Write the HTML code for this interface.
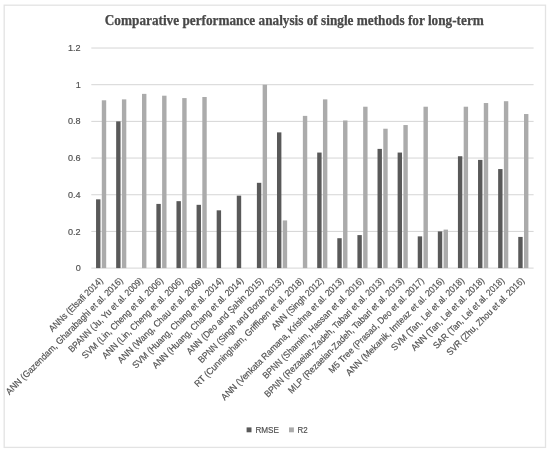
<!DOCTYPE html>
<html lang="en"><head><meta charset="utf-8"><title>Comparative performance analysis</title>
<style>html,body{margin:0;padding:0;background:#fff}svg{display:block}text{font-family:"Liberation Sans",sans-serif;fill:#505050;stroke:#505050;stroke-width:0.18px}.t{font-family:"Liberation Serif",serif;font-weight:bold;fill:#484848;stroke:#484848;stroke-width:0.25px}</style></head><body>
<svg width="550" height="451" viewBox="0 0 550 451">
<rect x="0" y="0" width="550" height="451" fill="#fff"/>
<rect x="4.2" y="5.2" width="541.3" height="442.2" fill="none" stroke="#e3e3e3" stroke-width="1.3"/>
<line x1="91.3" x2="533.6" y1="268.10" y2="268.10" stroke="#d5d5d5" stroke-width="1"/>
<line x1="91.3" x2="533.6" y1="231.42" y2="231.42" stroke="#d5d5d5" stroke-width="1"/>
<line x1="91.3" x2="533.6" y1="194.74" y2="194.74" stroke="#d5d5d5" stroke-width="1"/>
<line x1="91.3" x2="533.6" y1="158.06" y2="158.06" stroke="#d5d5d5" stroke-width="1"/>
<line x1="91.3" x2="533.6" y1="121.38" y2="121.38" stroke="#d5d5d5" stroke-width="1"/>
<line x1="91.3" x2="533.6" y1="84.70" y2="84.70" stroke="#d5d5d5" stroke-width="1"/>
<line x1="91.3" x2="533.6" y1="48.02" y2="48.02" stroke="#d5d5d5" stroke-width="1"/>
<rect x="96.05" y="199.33" width="4.40" height="68.77" fill="#595959"/>
<rect x="101.80" y="100.29" width="4.40" height="167.81" fill="#ababab"/>
<rect x="116.16" y="121.38" width="4.40" height="146.72" fill="#595959"/>
<rect x="121.91" y="99.37" width="4.40" height="168.73" fill="#ababab"/>
<rect x="142.01" y="93.87" width="4.40" height="174.23" fill="#ababab"/>
<rect x="156.37" y="203.91" width="4.40" height="64.19" fill="#595959"/>
<rect x="162.12" y="95.70" width="4.40" height="172.40" fill="#ababab"/>
<rect x="176.47" y="201.16" width="4.40" height="66.94" fill="#595959"/>
<rect x="182.22" y="98.09" width="4.40" height="170.01" fill="#ababab"/>
<rect x="196.57" y="204.83" width="4.40" height="63.27" fill="#595959"/>
<rect x="202.32" y="96.99" width="4.40" height="171.11" fill="#ababab"/>
<rect x="216.68" y="210.33" width="4.40" height="57.77" fill="#595959"/>
<rect x="236.78" y="195.66" width="4.40" height="72.44" fill="#595959"/>
<rect x="256.89" y="182.82" width="4.40" height="85.28" fill="#595959"/>
<rect x="262.64" y="84.70" width="4.40" height="183.40" fill="#ababab"/>
<rect x="276.99" y="132.38" width="4.40" height="135.72" fill="#595959"/>
<rect x="282.74" y="220.42" width="4.40" height="47.68" fill="#ababab"/>
<rect x="302.85" y="115.88" width="4.40" height="152.22" fill="#ababab"/>
<rect x="317.20" y="152.56" width="4.40" height="115.54" fill="#595959"/>
<rect x="322.95" y="99.37" width="4.40" height="168.73" fill="#ababab"/>
<rect x="337.31" y="238.21" width="4.40" height="29.89" fill="#595959"/>
<rect x="343.06" y="120.46" width="4.40" height="147.64" fill="#ababab"/>
<rect x="357.41" y="235.09" width="4.40" height="33.01" fill="#595959"/>
<rect x="363.16" y="106.71" width="4.40" height="161.39" fill="#ababab"/>
<rect x="377.52" y="148.89" width="4.40" height="119.21" fill="#595959"/>
<rect x="383.27" y="128.72" width="4.40" height="139.38" fill="#ababab"/>
<rect x="397.62" y="152.56" width="4.40" height="115.54" fill="#595959"/>
<rect x="403.37" y="125.05" width="4.40" height="143.05" fill="#ababab"/>
<rect x="417.73" y="236.37" width="4.40" height="31.73" fill="#595959"/>
<rect x="423.48" y="106.71" width="4.40" height="161.39" fill="#ababab"/>
<rect x="437.83" y="231.42" width="4.40" height="36.68" fill="#595959"/>
<rect x="443.58" y="229.59" width="4.40" height="38.51" fill="#ababab"/>
<rect x="457.93" y="156.23" width="4.40" height="111.87" fill="#595959"/>
<rect x="463.68" y="106.71" width="4.40" height="161.39" fill="#ababab"/>
<rect x="478.04" y="159.89" width="4.40" height="108.21" fill="#595959"/>
<rect x="483.79" y="103.04" width="4.40" height="165.06" fill="#ababab"/>
<rect x="498.14" y="169.06" width="4.40" height="99.04" fill="#595959"/>
<rect x="503.89" y="101.21" width="4.40" height="166.89" fill="#ababab"/>
<rect x="518.25" y="236.92" width="4.40" height="31.18" fill="#595959"/>
<rect x="524.00" y="114.04" width="4.40" height="154.06" fill="#ababab"/>
<text x="80.7" y="271.20" font-size="9.8" text-anchor="end" textLength="5.07" lengthAdjust="spacingAndGlyphs">0</text>
<text x="80.7" y="234.52" font-size="9.8" text-anchor="end" textLength="12.66" lengthAdjust="spacingAndGlyphs">0.2</text>
<text x="80.7" y="197.84" font-size="9.8" text-anchor="end" textLength="12.66" lengthAdjust="spacingAndGlyphs">0.4</text>
<text x="80.7" y="161.16" font-size="9.8" text-anchor="end" textLength="12.66" lengthAdjust="spacingAndGlyphs">0.6</text>
<text x="80.7" y="124.48" font-size="9.8" text-anchor="end" textLength="12.66" lengthAdjust="spacingAndGlyphs">0.8</text>
<text x="80.7" y="87.80" font-size="9.8" text-anchor="end" textLength="5.07" lengthAdjust="spacingAndGlyphs">1</text>
<text x="80.7" y="51.12" font-size="9.8" text-anchor="end" textLength="12.66" lengthAdjust="spacingAndGlyphs">1.2</text>
<text transform="translate(103.45,281.2) rotate(-45)" font-size="9.2" text-anchor="end" textLength="72.19" lengthAdjust="spacingAndGlyphs">ANNs (Elsafi 2014)</text>
<text transform="translate(123.52,281.2) rotate(-45)" font-size="9.2" text-anchor="end" textLength="161.20" lengthAdjust="spacingAndGlyphs">ANN (Gazendam, Gharabaghi et al. 2016)</text>
<text transform="translate(143.59,281.2) rotate(-45)" font-size="9.2" text-anchor="end" textLength="101.34" lengthAdjust="spacingAndGlyphs">BPANN (Ju, Yu et al. 2009)</text>
<text transform="translate(163.67,281.2) rotate(-45)" font-size="9.2" text-anchor="end" textLength="110.39" lengthAdjust="spacingAndGlyphs">SVM (Lin, Cheng et al. 2006)</text>
<text transform="translate(183.74,281.2) rotate(-45)" font-size="9.2" text-anchor="end" textLength="110.34" lengthAdjust="spacingAndGlyphs">ANN (Lin, Cheng et al. 2006)</text>
<text transform="translate(203.81,281.2) rotate(-45)" font-size="9.2" text-anchor="end" textLength="116.89" lengthAdjust="spacingAndGlyphs">ANN (Wang, Chau et al. 2009)</text>
<text transform="translate(223.88,281.2) rotate(-45)" font-size="9.2" text-anchor="end" textLength="124.34" lengthAdjust="spacingAndGlyphs">SVM (Huang, Chang et al. 2014)</text>
<text transform="translate(243.95,281.2) rotate(-45)" font-size="9.2" text-anchor="end" textLength="124.29" lengthAdjust="spacingAndGlyphs">ANN (Huang, Chang et al. 2014)</text>
<text transform="translate(264.02,281.2) rotate(-45)" font-size="9.2" text-anchor="end" textLength="104.51" lengthAdjust="spacingAndGlyphs">ANN (Deo and Şahin 2015)</text>
<text transform="translate(284.09,281.2) rotate(-45)" font-size="9.2" text-anchor="end" textLength="116.49" lengthAdjust="spacingAndGlyphs">BPNN (Singh and Borah 2013)</text>
<text transform="translate(304.16,281.2) rotate(-45)" font-size="9.2" text-anchor="end" textLength="150.31" lengthAdjust="spacingAndGlyphs">RT (Cunningham, Griffioen et al. 2018)</text>
<text transform="translate(324.24,281.2) rotate(-45)" font-size="9.2" text-anchor="end" textLength="69.37" lengthAdjust="spacingAndGlyphs">ANN (Singh 2012)</text>
<text transform="translate(344.31,281.2) rotate(-45)" font-size="9.2" text-anchor="end" textLength="168.96" lengthAdjust="spacingAndGlyphs">ANN (Venkata Ramana, Krishna et al. 2013)</text>
<text transform="translate(364.38,281.2) rotate(-45)" font-size="9.2" text-anchor="end" textLength="138.74" lengthAdjust="spacingAndGlyphs">BPNN (Shamim, Hassan et al. 2016)</text>
<text transform="translate(384.45,281.2) rotate(-45)" font-size="9.2" text-anchor="end" textLength="164.78" lengthAdjust="spacingAndGlyphs">BPNN (Rezaeian-Zadeh, Tabari et al. 2013)</text>
<text transform="translate(404.52,281.2) rotate(-45)" font-size="9.2" text-anchor="end" textLength="159.37" lengthAdjust="spacingAndGlyphs">MLP (Rezaeian-Zadeh, Tabari et al. 2013)</text>
<text transform="translate(424.59,281.2) rotate(-45)" font-size="9.2" text-anchor="end" textLength="130.73" lengthAdjust="spacingAndGlyphs">M5 Tree (Prasad, Deo et al. 2017)</text>
<text transform="translate(444.66,281.2) rotate(-45)" font-size="9.2" text-anchor="end" textLength="134.43" lengthAdjust="spacingAndGlyphs">ANN (Mekanik, Imteaz et al. 2016)</text>
<text transform="translate(464.73,281.2) rotate(-45)" font-size="9.2" text-anchor="end" textLength="99.10" lengthAdjust="spacingAndGlyphs">SVM (Tan, Lei et al. 2018)</text>
<text transform="translate(484.81,281.2) rotate(-45)" font-size="9.2" text-anchor="end" textLength="99.05" lengthAdjust="spacingAndGlyphs">ANN (Tan, Lei et al. 2018)</text>
<text transform="translate(504.88,281.2) rotate(-45)" font-size="9.2" text-anchor="end" textLength="96.19" lengthAdjust="spacingAndGlyphs">SAR (Tan, Lei et al. 2018)</text>
<text transform="translate(524.95,281.2) rotate(-45)" font-size="9.2" text-anchor="end" textLength="105.80" lengthAdjust="spacingAndGlyphs">SVR (Zhu, Zhou et al. 2016)</text>
<text class="t" x="104.8" y="24.7" fill="#484848" stroke="#484848" stroke-width="0.25" font-size="13.9" textLength="379" lengthAdjust="spacingAndGlyphs">Comparative performance analysis of single methods for long-term</text>
<rect x="246.6" y="427.4" width="4.9" height="4.9" fill="#595959"/>
<text x="255.4" y="432.8" font-size="9.2" textLength="23.60" lengthAdjust="spacingAndGlyphs">RMSE</text>
<rect x="289" y="427.4" width="4.9" height="4.9" fill="#ababab"/>
<text x="297.6" y="432.8" font-size="9.2" textLength="10.16" lengthAdjust="spacingAndGlyphs">R2</text>
</svg></body></html>
